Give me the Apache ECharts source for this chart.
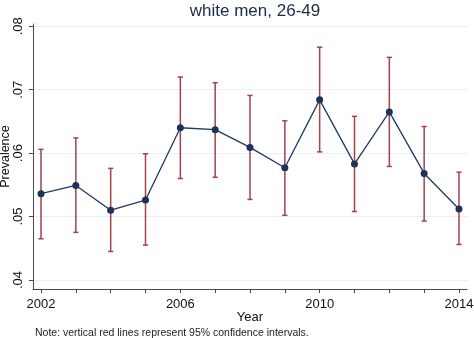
<!DOCTYPE html>
<html>
<head>
<meta charset="utf-8">
<script src="https://cdn.jsdelivr.net/npm/echarts@6/dist/echarts.min.js"></script>
<style>
  html, body { margin: 0; padding: 0; background: #ffffff; }
  #chart { width: 474px; height: 338px; }
</style>
</head>
<body>
<div id="chart"></div>
<script>
// Survey years and estimated prevalence with 95% confidence bounds
const years = [2002, 2003, 2004, 2005, 2006, 2007, 2008, 2009, 2010, 2011, 2012, 2013, 2014];
const prevalence = [0.0536, 0.0549, 0.0510, 0.0526, 0.0640, 0.0637, 0.0609, 0.0577, 0.0684, 0.0583, 0.0665, 0.0568, 0.0512];
const ciLower = [0.0465, 0.0475, 0.0445, 0.0455, 0.0560, 0.0562, 0.0527, 0.0502, 0.0602, 0.0508, 0.0579, 0.0493, 0.0456];
const ciUpper = [0.0606, 0.0624, 0.0576, 0.0599, 0.0720, 0.0711, 0.0691, 0.0651, 0.0767, 0.0658, 0.0751, 0.0642, 0.0570];

// Tick positions and labels
const xTickValues = years;
const xLabelValues = [2002, 2006, 2010, 2014];
const yTickValues = [0.04, 0.05, 0.06, 0.07, 0.08];

const FONT = 'Arial, "Liberation Sans", Helvetica, sans-serif';
const LINE_COLOR = '#1f3a5f';
const MARKER_COLOR = '#1c3259';
const CI_COLOR = '#a2434d';
const AXIS_COLOR = '#4a4a4a';

const chart = echarts.init(document.getElementById('chart'), null, { renderer: 'canvas' });

function fmtY(v) {
  return v.toFixed(2).replace(/^0/, '');
}

// Vertical interval with small end caps
function renderInterval(params, api) {
  const x = api.value(0);
  const lo = api.coord([x, api.value(1)]);
  const hi = api.coord([x, api.value(2)]);
  const cap = 2.6;
  const style = { stroke: CI_COLOR, lineWidth: 1.5, fill: null };
  return {
    type: 'group',
    children: [
      { type: 'line', shape: { x1: lo[0], y1: lo[1], x2: hi[0], y2: hi[1] }, style },
      { type: 'line', shape: { x1: hi[0] - cap, y1: hi[1], x2: hi[0] + cap, y2: hi[1] }, style },
      { type: 'line', shape: { x1: lo[0] - cap, y1: lo[1], x2: lo[0] + cap, y2: lo[1] }, style }
    ]
  };
}

const option = {
  backgroundColor: '#ffffff',
  animation: false,
  title: {
    text: 'white men, 26-49',
    left: 250,
    textAlign: 'center',
    top: -2,
    textStyle: { fontFamily: FONT, fontSize: 17, fontWeight: 'normal', color: '#1e2a48' }
  },
  grid: { left: 33, right: 7, top: 24, bottom: 49, containLabel: false, outerBoundsMode: 'none' },
  xAxis: {
    type: 'value',
    min: 2001.770,
    max: 2014.230,
    name: 'Year',
    nameLocation: 'middle',
    nameGap: 22,
    nameMoveOverlap: false,
    nameTextStyle: { fontFamily: FONT, fontSize: 13, color: '#111111' },
    axisLine: { show: true, onZero: false, lineStyle: { color: AXIS_COLOR, width: 1 } },
    axisTick: { show: true, length: 4, customValues: xTickValues, lineStyle: { color: AXIS_COLOR } },
    axisLabel: {
      show: true, customValues: xLabelValues, margin: 9,
      fontFamily: FONT, fontSize: 13, color: '#111111',
      formatter: v => String(v)
    },
    splitLine: { show: false }
  },
  yAxis: {
    type: 'value',
    min: 0.03858,
    max: 0.08036,
    name: 'Prevalence',
    nameLocation: 'middle',
    nameGap: 21,
    nameRotate: 90,
    nameMoveOverlap: false,
    nameTextStyle: { fontFamily: FONT, fontSize: 12.5, color: '#111111' },
    axisLine: { show: true, lineStyle: { color: AXIS_COLOR, width: 1 } },
    axisTick: { show: true, length: 4, customValues: yTickValues, lineStyle: { color: AXIS_COLOR } },
    axisLabel: {
      show: true, customValues: yTickValues, rotate: 90, margin: 8,
      fontFamily: FONT, fontSize: 13, color: '#111111',
      formatter: fmtY
    },
    splitLine: { show: true, lineStyle: { color: '#eceef0', width: 1 } }
  },
  graphic: [
    {
      type: 'text',
      left: 35,
      top: 328,
      style: {
        text: 'Note: vertical red lines represent 95% confidence intervals.',
        font: '10.5px ' + FONT,
        fill: '#222222'
      }
    }
  ],
  series: [
    {
      type: 'custom',
      name: 'CI',
      renderItem: renderInterval,
      encode: { x: 0, y: [1, 2] },
      data: years.map((y, i) => [y, ciLower[i], ciUpper[i]]),
      z: 2,
      silent: true
    },
    {
      type: 'line',
      name: 'Prevalence',
      data: years.map((y, i) => [y, prevalence[i]]),
      symbol: 'circle',
      symbolSize: 7,
      lineStyle: { color: LINE_COLOR, width: 1.3 },
      itemStyle: { color: MARKER_COLOR, borderWidth: 0 },
      z: 3,
      silent: true
    }
  ]
};

chart.setOption(option);
</script>
</body>
</html>
